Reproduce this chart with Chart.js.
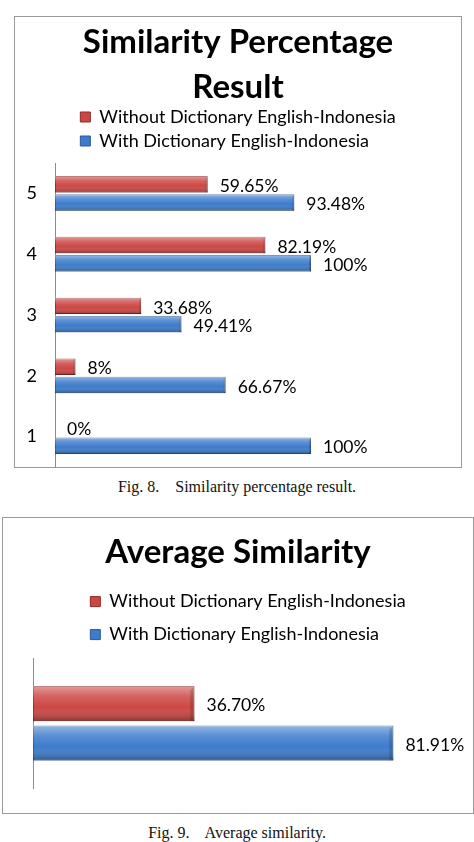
<!DOCTYPE html>
<html>
<head>
<meta charset="utf-8">
<script src="https://cdn.jsdelivr.net/npm/chart.js@4.4.1/dist/chart.umd.min.js"></script>
<style>
  html, body { margin: 0; padding: 0; background: #fff; }
  body { width: 474px; height: 842px; position: relative; overflow: hidden; }
  .box { position: absolute; border: 1px solid #9a9a9a; background: #fff; }
  #box1 { left: 14px; top: 16px; width: 446px; height: 450px; }
  #box2 { left: 2px; top: 517px; width: 470px; height: 295px; }
  .cap { position: absolute; left: 0; width: 474px; text-align: center; white-space: pre;
         font-family: "Liberation Serif", "DejaVu Serif", serif; font-size: 16px; color: #111; line-height: 20px; }
</style>
</head>
<body>
<div class="box" id="box1"><canvas id="simChart" width="446" height="450"></canvas></div>
<div class="cap" style="top:477px">Fig. 8.    Similarity percentage result.</div>
<div class="box" id="box2"><canvas id="avgChart" width="470" height="295"></canvas></div>
<div class="cap" style="top:823px">Fig. 9.    Average similarity.</div>
<script>
// data
const seriesNames = ['Without Dictionary English-Indonesia', 'With Dictionary English-Indonesia'];
const testCases = ['1', '2', '3', '4', '5'];
const withoutDict = [0, 8, 33.68, 82.19, 59.65];
const withDict = [100, 66.67, 49.41, 100, 93.48];
const avgWithout = [36.70];
const avgWith = [81.91];

const FONT = 'Lato';
const red = '#CC4744', redEdge = '#8E2A27';
const blue = '#3D7CCB', blueEdge = '#2A5A94';

// shading to mimic the office bevel look
const bevel = {
  id: 'bevel',
  afterDatasetsDraw(chart) {
    const ctx = chart.ctx;
    chart.data.datasets.forEach((ds, i) => {
      chart.getDatasetMeta(i).data.forEach(bar => {
        const p = bar.getProps(['x', 'y', 'base', 'height'], true);
        const w = p.x - p.base;
        if (w <= 0) return;
        const top = p.y - p.height / 2;
        const g = ctx.createLinearGradient(0, top, 0, top + p.height);
        g.addColorStop(0, 'rgba(255,255,255,0.45)');
        g.addColorStop(0.3, 'rgba(255,255,255,0.15)');
        g.addColorStop(0.6, 'rgba(255,255,255,0)');
        g.addColorStop(1, 'rgba(0,0,0,0.3)');
        ctx.save();
        ctx.fillStyle = g;
        ctx.fillRect(p.base, top, w, p.height);
        // narrow facet at the bar end
        const b = Math.min(p.height * 0.12, w);
        ctx.fillStyle = 'rgba(0,0,0,0.15)';
        ctx.beginPath();
        ctx.moveTo(p.x, top);
        ctx.lineTo(p.x - b, top + b);
        ctx.lineTo(p.x - b, top + p.height);
        ctx.lineTo(p.x, top + p.height);
        ctx.closePath();
        ctx.fill();
        ctx.restore();
      });
    });
  }
};

// value text right of each bar
const valueLabels = {
  id: 'valueLabels',
  afterDatasetsDraw(chart, args, opts) {
    const ctx = chart.ctx;
    ctx.save();
    ctx.font = opts.size + 'px ' + FONT;
    ctx.fillStyle = '#000';
    ctx.textAlign = 'left';
    ctx.textBaseline = 'middle';
    chart.data.datasets.forEach((ds, i) => {
      chart.getDatasetMeta(i).data.forEach((bar, j) => {
        const v = ds.data[j];
        const txt = (opts.decimals == null ? String(v) : v.toFixed(opts.decimals)) + '%';
        ctx.fillText(txt, bar.x + 12, bar.y + 2);
      });
    });
    ctx.restore();
  }
};

// keep both legend rows left aligned as one centered block
const legendBlock = {
  id: 'legendBlock',
  afterLayout(chart, args, opts) {
    const lg = chart.legend;
    if (!lg || !lg.lineWidths) return;
    const m = Math.max(...lg.lineWidths) - 2 * (opts.shift || 0);
    lg.lineWidths = lg.lineWidths.map(() => m);
  }
};

function makeDatasets(a, b) {
  return [
    { label: seriesNames[0], data: a, backgroundColor: red, borderColor: redEdge, borderWidth: 1, borderSkipped: false },
    { label: seriesNames[1], data: b, backgroundColor: blue, borderColor: blueEdge, borderWidth: 1, borderSkipped: false }
  ];
}

// hidden top axis, used only as a small gap under the legend
function spacerAxis(max, gap) {
  return {
    position: 'top', min: 0, max: max,
    grid: { display: false, drawTicks: false },
    border: { display: false },
    ticks: { display: false },
    afterFit: s => { s.height = gap; }
  };
}

new Chart(document.getElementById('simChart'), {
  type: 'bar',
  data: { labels: testCases, datasets: makeDatasets(withoutDict, withDict) },
  plugins: [legendBlock, bevel, valueLabels],
  options: {
    responsive: false,
    animation: false,
    indexAxis: 'y',
    categoryPercentage: 0.6,
    barPercentage: 0.9,
    layout: { padding: 0 },
    scales: {
      x: spacerAxis(158.6, 3),
      y: {
        reverse: true,
        grid: { display: false, drawTicks: false },
        border: { display: true, color: '#8c8c8c', width: 1 },
        ticks: { color: '#000', padding: 18, font: { family: FONT, size: 18 } },
        afterFit: s => { s.width = 40; s.paddingTop = 0; s.paddingBottom = 0; }
      }
    },
    plugins: {
      title: {
        display: true,
        text: ['Similarity Percentage', 'Result'],
        color: '#000',
        font: { family: FONT, size: 33, weight: 'bold', lineHeight: '45px' },
        padding: { top: 3, bottom: -8 }
      },
      legend: {
        position: 'top',
        labels: { color: '#000', boxWidth: 10, boxHeight: 10, padding: 6, font: { family: FONT, size: 18 } }
      },
      legendBlock: { shift: 0 },
      tooltip: { enabled: false },
      valueLabels: { size: 17.5, decimals: null }
    }
  }
});

new Chart(document.getElementById('avgChart'), {
  type: 'bar',
  data: { labels: [''], datasets: makeDatasets(avgWithout, avgWith) },
  plugins: [legendBlock, bevel, valueLabels],
  options: {
    responsive: false,
    animation: false,
    indexAxis: 'y',
    categoryPercentage: 0.61,
    barPercentage: 0.89,
    layout: { padding: { left: 0, right: 0, top: 0, bottom: 25 } },
    scales: {
      x: spacerAxis(100, 5),
      y: {
        grid: { display: false, drawTicks: false },
        border: { display: true, color: '#8c8c8c', width: 1 },
        ticks: { display: false },
        afterFit: s => { s.width = 30; }
      }
    },
    plugins: {
      title: {
        display: true,
        text: 'Average Similarity',
        color: '#000',
        font: { family: FONT, size: 33, weight: 'bold', lineHeight: 1.2 },
        padding: { top: 15, bottom: 5 }
      },
      legend: {
        position: 'top',
        labels: { color: '#000', boxWidth: 10, boxHeight: 10, padding: 15, font: { family: FONT, size: 18 } }
      },
      legendBlock: { shift: 10 },
      tooltip: { enabled: false },
      valueLabels: { size: 17.5, decimals: 2 }
    }
  }
});
</script>
</body>
</html>
